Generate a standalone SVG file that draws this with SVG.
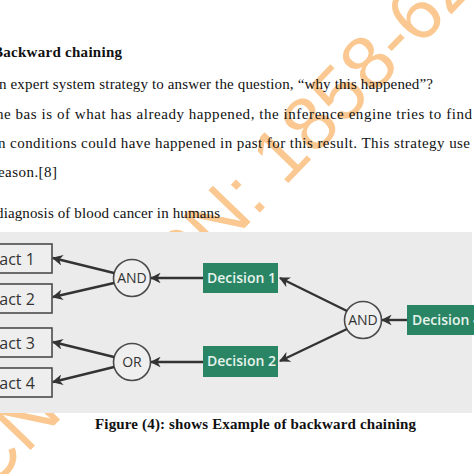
<svg xmlns="http://www.w3.org/2000/svg" width="474" height="474" viewBox="0 0 474 474">
<style>
.body{font-family:"Liberation Serif","Times New Roman",serif;font-size:15px;fill:#111}
.bold{font-weight:bold}
.wm{font-family:"Liberation Sans",Arial,sans-serif;font-size:76px;fill:#f7a447;opacity:0.6}
.fact rect{fill:#eeeeee;stroke:#4a4a4a;stroke-width:1.6}
.fact text{font-family:"Open Sans","Noto Sans",sans-serif;font-size:16px;fill:#333}
.gate circle{fill:#efefef;stroke:#4a4a4a;stroke-width:1.6}
.gate text{font-family:"Open Sans","Noto Sans",sans-serif;font-size:14px;fill:#333;text-anchor:middle}
.dec rect{fill:#2a8565}
.dec text{font-family:"Open Sans","Noto Sans",sans-serif;font-size:14px;font-weight:600;fill:#e6f4ec}
#connectors line{stroke:#333;stroke-width:2.4;marker-end:url(#arr)}
</style>
<defs>
<marker id="arr" viewBox="0 0 10 10" refX="9" refY="5" markerWidth="4.5" markerHeight="4.5" orient="auto" markerUnits="strokeWidth">
<path d="M0,0 L10,5 L0,10 L3,5 z" fill="#333"/>
</marker>
</defs>
<rect width="474" height="474" fill="#ffffff"/>
<g id="watermark">
<text class="wm" transform="translate(-12,494) rotate(-46)">CNC, ISSN: 1858-627</text>
</g>
<g id="page-text">
<text class="body bold" x="-7" y="57" textLength="129">Backward chaining</text>
<text class="body" x="-1" y="89" textLength="434">n expert system strategy to answer the question, “why this happened”?</text>
<text class="body" x="-4" y="119" textLength="476">he bas is of what has already happened, the inference engine tries to find</text>
<text class="body" x="-2" y="148" textLength="472">n conditions could have happened in past for this result. This strategy use</text>
<text class="body" x="-2" y="177" textLength="59">eason.[8]</text>
<text class="body" x="-4" y="218" textLength="224">diagnosis of blood cancer in humans</text>
<text class="body bold" x="95" y="429" textLength="321">Figure (4): shows Example of backward chaining</text>
</g>
<rect x="0" y="232" width="472" height="181" fill="#ebebeb"/>
<g id="fact1" class="fact"><rect x="-20" y="244" width="72" height="29"/><text x="-9" y="265">Fact 1</text></g>
<g id="fact2" class="fact"><rect x="-20" y="284" width="72" height="29"/><text x="-9" y="305">Fact 2</text></g>
<g id="fact3" class="fact"><rect x="-20" y="328" width="72" height="29"/><text x="-9" y="349">Fact 3</text></g>
<g id="fact4" class="fact"><rect x="-20" y="368" width="72" height="29"/><text x="-9" y="389">Fact 4</text></g>
<g id="and1" class="gate"><circle cx="132" cy="278" r="18.5"/><text x="132" y="283">AND</text></g>
<g id="or1" class="gate"><circle cx="132" cy="362" r="18.5"/><text x="132" y="367">OR</text></g>
<g id="and2" class="gate"><circle cx="363" cy="320" r="18.5"/><text x="363" y="325">AND</text></g>
<g id="decision1" class="dec"><rect x="203" y="263" width="75" height="30"/><text x="207" y="283">Decision 1</text></g>
<g id="decision2" class="dec"><rect x="203" y="346" width="75" height="31"/><text x="207" y="366">Decision 2</text></g>
<g id="decision4" class="dec"><rect x="407" y="305" width="80" height="30"/><text x="412" y="325">Decision 4</text></g>
<g id="connectors">
<line x1="114" y1="273" x2="53" y2="258"/>
<line x1="114" y1="283" x2="53" y2="297"/>
<line x1="114" y1="357" x2="53" y2="342"/>
<line x1="114" y1="367" x2="53" y2="382"/>
<line x1="203" y1="278" x2="151" y2="278"/>
<line x1="203" y1="362" x2="151" y2="362"/>
<line x1="347" y1="311" x2="280" y2="278"/>
<line x1="347" y1="329" x2="280" y2="361"/>
<line x1="407" y1="320" x2="382" y2="320"/>
</g>
</svg>
